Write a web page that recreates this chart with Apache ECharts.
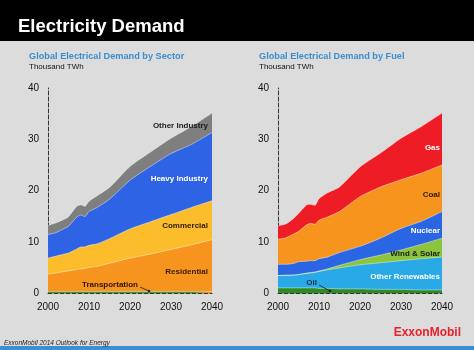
<!DOCTYPE html>
<html>
<head>
<meta charset="utf-8">
<script src="https://cdn.jsdelivr.net/npm/echarts@6/dist/echarts.min.js"></script>
<style>
  html, body { margin: 0; padding: 0; background: #dcdcdc; }
  #chart { width: 474px; height: 350px; }
</style>
</head>
<body>
<div id="chart"></div>
<script>
// years
var years = [2000, 2002, 2004, 2005, 2007, 2008, 2009, 2010, 2012, 2015, 2020, 2025, 2030, 2035, 2040]

// by sector (thousand TWh), bottom to top
var transportation = [0.3, 0.3, 0.3, 0.3, 0.3, 0.3, 0.3, 0.3, 0.3, 0.3, 0.3, 0.3, 0.3, 0.3, 0.3]
var residential    = [3.4, 3.6, 3.9, 4.0, 4.3, 4.4, 4.5, 4.7, 4.9, 5.5, 6.5, 7.3, 8.2, 9.1, 10.1]
var commercial     = [3.1, 3.3, 3.4, 3.5, 4.0, 4.3, 4.2, 4.3, 4.4, 4.8, 5.7, 6.3, 6.8, 7.3, 7.6]
var heavyIndustry  = [4.6, 4.6, 5.0, 5.2, 6.2, 6.2, 5.9, 6.6, 7.1, 7.7, 9.5, 10.8, 11.9, 12.3, 13.3]
var otherIndustry  = [1.8, 1.9, 1.8, 1.9, 2.1, 2.0, 2.0, 2.0, 2.3, 2.3, 2.7, 2.8, 3.0, 3.5, 3.8]

// by fuel (thousand TWh), bottom to top
var oil            = [1.0, 1.0, 1.0, 1.0, 1.0, 1.0, 1.0, 0.9, 0.9, 0.8, 0.8, 0.7, 0.7, 0.6, 0.6]
var otherRenew     = [2.4, 2.4, 2.5, 2.6, 2.8, 2.9, 3.0, 3.3, 3.6, 4.1, 4.7, 5.2, 5.6, 6.1, 6.4]
var windSolar      = [0.0, 0.1, 0.0, 0.0, 0.1, 0.1, 0.1, 0.1, 0.2, 0.5, 1.0, 1.5, 2.1, 2.8, 3.7]
var nuclear        = [2.2, 2.1, 2.3, 2.5, 2.3, 2.3, 2.2, 2.4, 2.3, 2.5, 2.6, 3.3, 4.2, 4.5, 5.2]
var coal           = [4.9, 5.2, 5.8, 5.9, 7.1, 7.3, 7.1, 7.5, 7.8, 8.0, 9.7, 10.0, 9.5, 9.4, 9.1]
var gas            = [2.6, 2.7, 3.1, 3.5, 3.9, 3.7, 3.7, 4.2, 4.7, 4.8, 5.8, 6.6, 8.1, 9.1, 10.1]

var font = 'Liberation Sans, Arial, sans-serif'

// stack by hand: each layer is drawn as its running total, top layer first
function buildStack(layers, idx) {
  var run = years.map(function () { return 0 })
  var out = []
  layers.forEach(function (l) {
    run = run.map(function (v, i) { return v + l.vals[i] })
    out.push({
      name: l.name,
      type: 'line',
      xAxisIndex: idx,
      yAxisIndex: idx,
      symbol: 'none',
      smooth: 0.2,
      data: years.map(function (y, i) { return [y, +run[i].toFixed(2)] }),
      lineStyle: { width: 0.8, color: 'rgba(255,255,255,0.55)' },
      areaStyle: { color: l.color, opacity: 1, origin: 'start' },
      itemStyle: { color: l.color }
    })
  })
  return out.reverse()
}

function xAxis(idx) {
  return {
    type: 'value', gridIndex: idx, min: 2000, max: 2040, interval: 10,
    axisLine: { show: true, lineStyle: { color: '#333', type: 'dashed', width: 1 } },
    axisTick: { show: false },
    splitLine: { show: false },
    axisLabel: { color: '#111', fontSize: 10, fontFamily: font, margin: 9,
      formatter: function (v) { return String(v) } }
  }
}

function yAxis(idx) {
  return {
    type: 'value', gridIndex: idx, min: 0, max: 40, interval: 10,
    axisLine: { show: true, lineStyle: { color: '#333', type: 'dashed', width: 1 } },
    axisTick: { show: false },
    splitLine: { show: false },
    axisLabel: { color: '#111', fontSize: 10, fontFamily: font, margin: 9 }
  }
}

function label(text, x, y, color) {
  return {
    type: 'text', x: x, y: y, z: 100,
    style: {
      text: text, fill: color, font: 'bold 8px ' + font,
      textAlign: 'right', textVerticalAlign: 'middle'
    }
  }
}

var sectorSeries = buildStack([
  { name: 'Transportation', vals: transportation, color: '#3f9a28' },
  { name: 'Residential', vals: residential, color: '#f7941d' },
  { name: 'Commercial', vals: commercial, color: '#fbbd2c' },
  { name: 'Heavy Industry', vals: heavyIndustry, color: '#2e63e6' },
  { name: 'Other Industry', vals: otherIndustry, color: '#7f7f7f' }
], 0)

var fuelSeries = buildStack([
  { name: 'Oil', vals: oil, color: '#2f8a24' },
  { name: 'Other Renewables', vals: otherRenew, color: '#29a9e6' },
  { name: 'Wind & Solar', vals: windSolar, color: '#8cc43c' },
  { name: 'Nuclear', vals: nuclear, color: '#2a66e4' },
  { name: 'Coal', vals: coal, color: '#f7941d' },
  { name: 'Gas', vals: gas, color: '#ee1c24' }
], 1)

var chart = echarts.init(document.getElementById('chart'))
chart.setOption({
  backgroundColor: '#dcdcdc',
  animation: false,
  grid: [
    { left: 48, right: 262, top: 88, bottom: 57 },
    { left: 278, right: 32, top: 88, bottom: 57 }
  ],
  xAxis: [xAxis(0), xAxis(1)],
  yAxis: [yAxis(0), yAxis(1)],
  series: sectorSeries.concat(fuelSeries),
  graphic: [
    { type: 'rect', shape: { x: 0, y: 0, width: 474, height: 41 }, style: { fill: '#000' } },
    { type: 'rect', shape: { x: 0, y: 346, width: 474, height: 4 }, style: { fill: '#3b8fd2' } },
    { type: 'text', x: 18, y: 27, style: { text: 'Electricity Demand', fill: '#fff', font: 'bold 18.5px ' + font, textVerticalAlign: 'middle' } },
    { type: 'text', x: 29, y: 56, style: { text: 'Global Electrical Demand by Sector', fill: '#3a8ed0', font: 'bold 9.2px ' + font, textVerticalAlign: 'middle' } },
    { type: 'text', x: 29, y: 67, style: { text: 'Thousand TWh', fill: '#111', font: '8px ' + font, textVerticalAlign: 'middle' } },
    { type: 'text', x: 259, y: 56, style: { text: 'Global Electrical Demand by Fuel', fill: '#3a8ed0', font: 'bold 9.2px ' + font, textVerticalAlign: 'middle' } },
    { type: 'text', x: 259, y: 67, style: { text: 'Thousand TWh', fill: '#111', font: '8px ' + font, textVerticalAlign: 'middle' } },
    { type: 'text', x: 4, y: 343, style: { text: 'ExxonMobil 2014 Outlook for Energy', fill: '#222', font: 'italic 6.5px ' + font, textVerticalAlign: 'middle' } },
    { type: 'text', x: 461, y: 333, style: { text: 'ExxonMobil', fill: '#e8202a', font: 'bold 12px ' + font, textAlign: 'right', textVerticalAlign: 'middle' } },
    // sector labels
    label('Other Industry', 208, 126, '#1a1a1a'),
    label('Heavy Industry', 208, 179, '#ffffff'),
    label('Commercial', 208, 226, '#2a1a08'),
    label('Residential', 208, 272, '#3a1a08'),
    label('Transportation', 138, 285, '#2a1208'),
    { type: 'line', shape: { x1: 140, y1: 287, x2: 149, y2: 291 }, style: { stroke: '#222', lineWidth: 0.8 }, z: 100 },
    { type: 'circle', shape: { cx: 149, cy: 291, r: 1.3 }, style: { fill: '#222' }, z: 100 },
    // fuel labels
    label('Gas', 440, 148, '#ffffff'),
    label('Coal', 440, 195, '#2a1a08'),
    label('Nuclear', 440, 231, '#ffffff'),
    label('Wind & Solar', 440, 254, '#1a1a1a'),
    label('Other Renewables', 440, 277, '#ffffff'),
    label('Oil', 317, 283, '#10304a'),
    { type: 'line', shape: { x1: 319, y1: 285, x2: 330, y2: 291 }, style: { stroke: '#222', lineWidth: 0.8 }, z: 100 },
    { type: 'circle', shape: { cx: 330, cy: 291, r: 1.3 }, style: { fill: '#222' }, z: 100 }
  ]
})
</script>
</body>
</html>
